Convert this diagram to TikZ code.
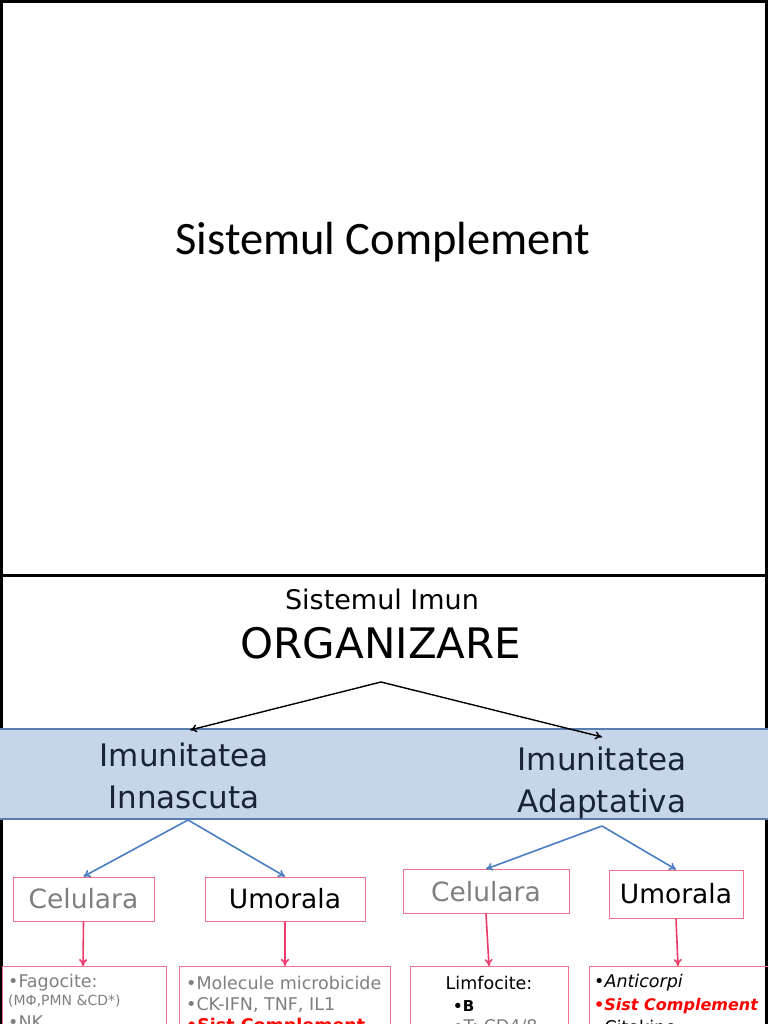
\documentclass[tikz,border=0pt]{standalone}
\usepackage{fontspec}
\setmainfont{DejaVu Sans}
\newfontfamily\calib{Carlito}
\usetikzlibrary{arrows.meta}
\definecolor{bandfill}{HTML}{C6D5E8}
\definecolor{banddraw}{HTML}{5A7DB0}
\definecolor{bluearr}{HTML}{4A7EC2}
\definecolor{pinkbox}{HTML}{F0708F}
\definecolor{pinkarr}{HTML}{EC3A6A}
\definecolor{txtgray}{HTML}{7F7F7F}
\definecolor{bandtext}{HTML}{1A2238}
\tikzset{
  frame/.style={line width=3pt,black},
  blackarr/.style={-{To[length=7pt,width=8pt]},line width=1.4pt,black},
  bluearrow/.style={-{To[length=7pt,width=8pt]},line width=1.6pt,bluearr},
  pinkarrow/.style={-{To[length=7pt,width=8pt]},line width=1.6pt,pinkarr},
  catbox/.style={draw=pinkbox,line width=1pt,minimum height=44pt,inner sep=0pt,font=\fontsize{26.5}{30}\selectfont},
  listbox/.style={draw=pinkbox,line width=1pt},
  bandtxt/.style={align=center,font=\fontsize{31}{42}\selectfont,text=bandtext},
  li/.style={anchor=west,inner sep=0pt,font=\fontsize{17.5}{21}\selectfont}
}
\begin{document}
\begin{tikzpicture}[x=1pt,y=-1pt]
\useasboundingbox (0,0) rectangle (768,1024);
\clip (0,0) rectangle (768,1024);
\fill[white] (0,0) rectangle (768,1024);
% top slide
\draw[frame] (1.5,1.5) -- (766.5,1.5);
\draw[frame] (1.5,0) -- (1.5,1024);
\draw[frame] (766.5,0) -- (766.5,1024);
\draw[frame] (0,575.5) -- (768,575.5);
\node[font=\calib\fontsize{46.5}{54}\selectfont] (title) at (383,242) {Sistemul Complement};
% bottom slide
\node[font=\fontsize{27}{32}\selectfont] (imun) at (382,599) {Sistemul Imun};
\node[font=\fontsize{42}{48}\selectfont] (org) at (381,643) {ORGANIZARE};
\fill[bandfill] (0,729) rectangle (768,819);
\draw[banddraw,line width=1.5pt] (0,729) -- (768,729) (0,819) -- (768,819);
\coordinate (apex) at (381,682);
\coordinate (innTop) at (190,730);
\coordinate (adTop) at (602,737);
\draw[blackarr] (apex) -- (innTop);
\draw[blackarr] (apex) -- (adTop);
\node[bandtxt] (inn) at (184,776) {Imunitatea\\Innascuta};
\node[bandtxt] (ad) at (602,783) {Imunitatea\\Adaptativa};
\coordinate (innBot) at (188,820);
\coordinate (adBot) at (602,826);
% category boxes
\node[catbox,text=txtgray,minimum width=141pt] (cel1) at (83.5,899) {Celulara};
\node[catbox,minimum width=160pt] (umo1) at (285,899) {Umorala};
\node[catbox,text=txtgray,minimum width=166pt] (cel2) at (486,891.5) {Celulara};
\node[catbox,minimum width=134pt,minimum height=48pt] (umo2) at (676,894) {Umorala};
\draw[bluearrow] (innBot) -- (cel1.north);
\draw[bluearrow] (innBot) -- (umo1.north);
\draw[bluearrow] (adBot) -- (cel2.north);
\draw[bluearrow] (adBot) -- (umo2.north);
% list boxes
\coordinate (l1) at (83,966);
\coordinate (l2) at (285,966);
\coordinate (l3) at (489,966);
\coordinate (l4) at (678,966);
\draw[listbox] (2,966) rectangle (166,1040);
\draw[listbox] (179,966) rectangle (390,1040);
\draw[listbox] (410,966) rectangle (568,1040);
\draw[listbox] (589,966) rectangle (780,1040);
\draw[pinkarrow] (cel1.south) -- (l1);
\draw[pinkarrow] (umo1.south) -- (l2);
\draw[pinkarrow] (cel2.south) -- (l3);
\draw[pinkarrow] (umo2.south) -- (l4);
% box 1
\node[li,text=txtgray] (fag) at (8,983) {•Fagocite:};
\node[li,text=txtgray,font=\fontsize{14}{16}\selectfont] (fagd) at (8,1001) {(MΦ,PMN \&CD*)};
\node[li,text=txtgray] (nk) at (8,1022) {•NK};
% box 2
\node[li,text=txtgray] (mol) at (186,983) {•Molecule microbicide};
\node[li,text=txtgray] (ck) at (186,1005) {•CK-IFN, TNF, IL1};
\node[li,text=red,font=\bfseries\fontsize{17.5}{21}\selectfont] (sc1) at (186,1027) {•Sist Complement};
% box 3
\node[inner sep=0pt,font=\fontsize{17.5}{21}\selectfont] (lim) at (489,983) {Limfocite:};
\node[li,font=\bfseries\fontsize{15}{18}\selectfont] (lb) at (453,1006) {•B};
\node[li,text=txtgray] (lt) at (453,1027) {•T: CD4/8};
% box 4
\node[li,font=\itshape\fontsize{17.5}{21}\selectfont] (ac) at (594,983) {•Anticorpi};
\node[li,text=red,font=\bfseries\itshape\fontsize{16}{20}\selectfont] (sc2) at (594,1006) {•Sist Complement};
\node[li] (cit) at (594,1027) {•Citokine};
\end{tikzpicture}
\end{document}
